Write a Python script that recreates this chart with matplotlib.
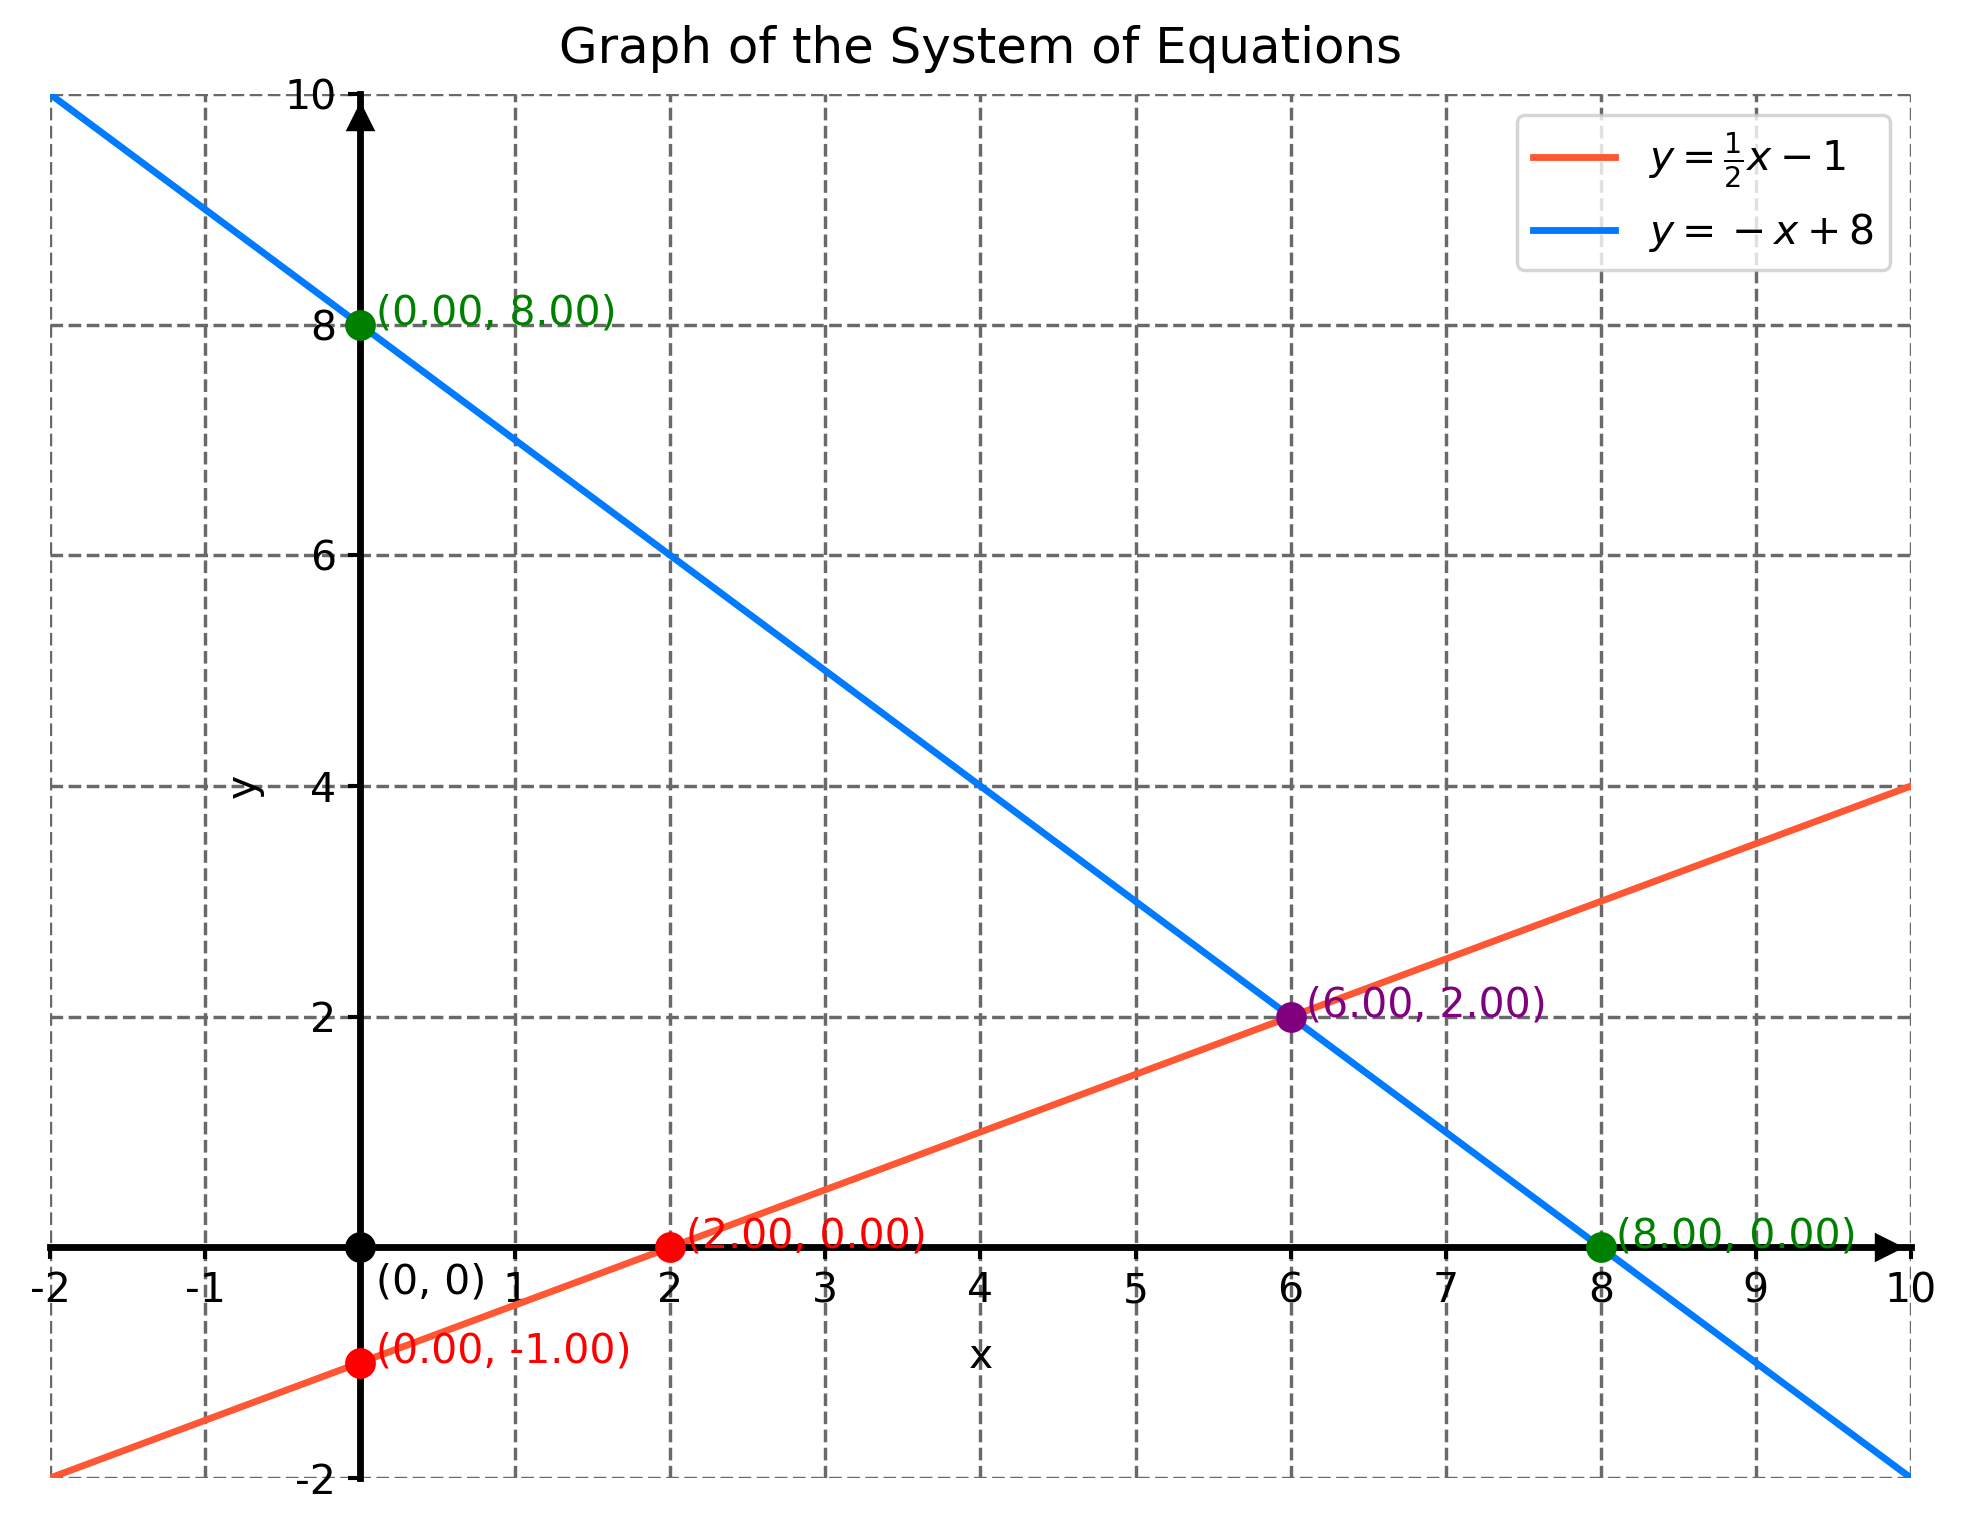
import numpy as np
import matplotlib.pyplot as plt

plt.rcParams['axes.unicode_minus'] = False

# lines (end points)
lineX = [-2, 10]
orangeY = [-2, 4]
blueY = [10, -2]

# marked points
ptsX = [0, 8, 0, 2, 6]
ptsY = [8, 0, -1, 0, 2]
ptsColor = ['green', 'green', 'red', 'red', 'purple']
ptsLabel = ['(0.00, 8.00)', '(8.00, 0.00)', '(0.00, -1.00)', '(2.00, 0.00)', '(6.00, 2.00)']

xTicks = [-2, -1, 1, 2, 3, 4, 5, 6, 7, 8, 9, 10]
yTicks = [-2, 2, 4, 6, 8, 10]


dpi = 246
fig = plt.figure(figsize=(1967 / dpi, 1534 / dpi), dpi=dpi)
ax = fig.add_axes([0.0254, 0.0365, 0.9715 - 0.0254, 0.9387 - 0.0365])

ax.plot(lineX, orangeY, color='#FF5733', lw=2, label=r'$y = \frac{1}{2}x - 1$')
ax.plot(lineX, blueY, color='#007BFF', lw=2, label=r'$y = {} - x + 8$')

# origin
ax.plot(0, 0, 'o', color='black', ms=8, zorder=5)
ax.text(0.1, -0.4, '(0, 0)', fontsize=12, color='black')

for x, y, c, lab in zip(ptsX, ptsY, ptsColor, ptsLabel):
    ax.plot(x, y, 'o', color=c, ms=8, zorder=5)
    ax.text(x + 0.1, y, lab, fontsize=12, color=c)

# axes croisés en (0,0)
ax.spines['left'].set_position(('data', 0))
ax.spines['bottom'].set_position(('data', 0))
ax.spines['top'].set_visible(False)
ax.spines['right'].set_visible(False)
ax.spines['left'].set_linewidth(2)
ax.spines['bottom'].set_linewidth(2)

# fleches
ax.plot(9.85, 0, '>k', ms=7, clip_on=False, zorder=6)
ax.plot(0, 9.8, '^k', ms=7, clip_on=False, zorder=6)

ax.set_xlim(-2, 10)
ax.set_ylim(-2, 10)
ax.set_xticks(xTicks)
ax.set_yticks(yTicks)
ax.tick_params(labelsize=12, width=1.2)

ax.set_xlabel('x', fontsize=12, labelpad=7.5)
ax.set_ylabel('y', fontsize=12, labelpad=6)
ax.set_title('Graph of the System of Equations', fontsize=14.6, pad=9)
ax.grid(True, color='dimgray', linestyle='--', linewidth=1)
ax.legend(loc='upper right', fontsize=12)

fig.savefig('out.png', dpi=dpi)
